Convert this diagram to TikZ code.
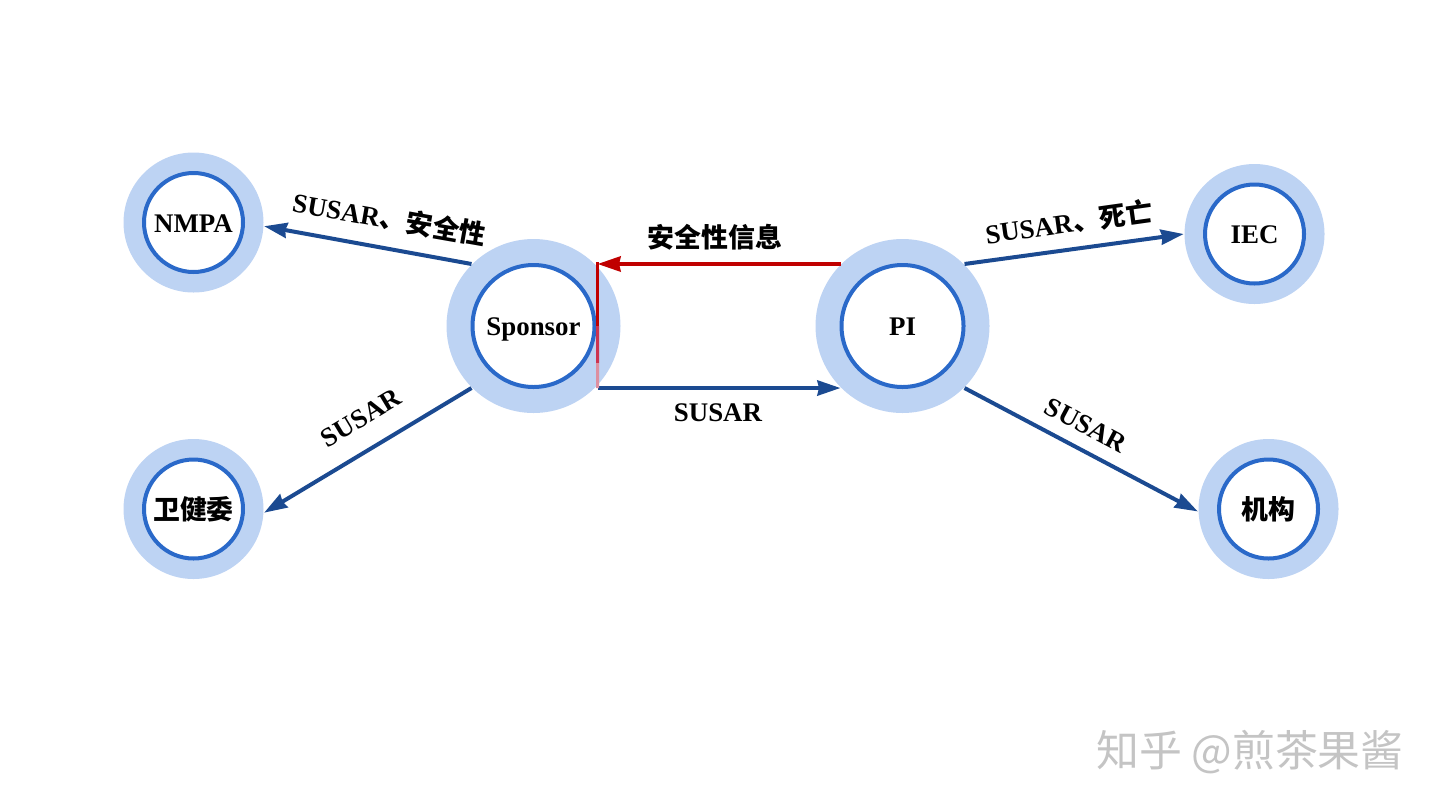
\documentclass[tikz,border=0pt]{standalone}
\usepackage{fontspec}
\setmainfont{Liberation Serif}
\newfontfamily\cjk{Noto Sans CJK SC}
\usetikzlibrary{arrows.meta, calc}
\definecolor{discblue}{HTML}{BDD3F3}
\definecolor{ringblue}{HTML}{2A69C9}
\definecolor{arrowblue}{HTML}{1B4A91}
\definecolor{arrowred}{HTML}{C00000}
\definecolor{midred}{HTML}{CC3350}
\definecolor{fadered}{HTML}{DD8FA0}
\definecolor{markgrey}{HTML}{C4C4C4}

\begin{document}
\begin{tikzpicture}
    [x=0.1mm, y=-0.1mm,
    bigdisc/.style={circle, fill=discblue, inner sep=0pt, minimum size=17.4mm},
    smalldisc/.style={circle, fill=discblue, inner sep=0pt, minimum size=14mm},
    bigring/.style={circle, draw=ringblue, line width=0.4mm, fill=white, inner sep=0pt, minimum size=12.2mm, text height=5.5pt, text depth=0pt, font=\fontsize{7.65}{9}\selectfont\bfseries},
    smallring/.style={circle, draw=ringblue, line width=0.4mm, fill=white, inner sep=0pt, minimum size=9.9mm, text height=5.5pt, text depth=0pt, font=\fontsize{7.65}{9}\selectfont\bfseries},
    bluearrow/.style={draw=arrowblue, line width=0.4mm, -{Stealth[length=2.3mm, width=1.5mm, inset=0.15mm]}},
    redarrow/.style={draw=arrowred, line width=0.4mm, -{Stealth[length=2.3mm, width=1.5mm, inset=0.15mm]}},
    edgelabel/.style={inner sep=0pt, font=\fontsize{7.65}{9}\selectfont\bfseries},]

    \useasboundingbox (0,0) rectangle (1440,810);

    %Nodes
    \node[bigdisc](Sponsor) at (533.5,326){};
    \node[bigdisc](PI) at (902.5,326){};
    \node[smalldisc](NMPA) at (193.5,222.5){};
    \node[smalldisc](NHC) at (193.5,509){};
    \node[smalldisc](IEC) at (1254.5,234){};
    \node[smalldisc](Site) at (1268.5,509){};

    \node[bigring](SponsorIn) at (Sponsor){Sponsor};
    \node[bigring](PIIn) at (PI){PI};
    \node[smallring](NMPAIn) at (NMPA){NMPA};
    \node[smallring, text height=6.2pt](NHCIn) at (NHC){\cjk 卫健委};
    \node[smallring](IECIn) at (IEC){IEC};
    \node[smallring, text height=6.2pt](SiteIn) at (Site){\cjk 机构};

    \coordinate (RedTop) at ([xshift=0.2mm]Sponsor.45);
    \coordinate (BlueStart) at ([xshift=0.2mm]Sponsor.-45);

    %Lines
    \draw[bluearrow](Sponsor.135)--(NMPA.-3);
    \draw[bluearrow](Sponsor.225)--(NHC.-3);
    \draw[bluearrow](PI.45)--(IEC.180);
    \draw[bluearrow](PI.-45)--(Site.182);
    \draw[bluearrow](BlueStart)--(PI.-135);
    \draw[redarrow](PI.135)--(RedTop);
    \draw[draw=arrowred, line width=0.3mm]($(RedTop)!0.5!(BlueStart)$)--([yshift=0.15mm]RedTop);
    \draw[draw=midred, line width=0.3mm]($(RedTop)!0.8!(BlueStart)$)--($(RedTop)!0.5!(BlueStart)$);
    \draw[draw=fadered, line width=0.3mm](BlueStart)--($(RedTop)!0.8!(BlueStart)$);

    %Labels
    \node[edgelabel, rotate=-10](LabelNMPA) at (389.5,218.5){SUSAR{\cjk 、安全性}};
    \node[edgelabel, rotate=31](LabelNHC) at (361,418){SUSAR};
    \node[edgelabel](LabelInfo) at (715,237){\cjk 安全性信息};
    \node[edgelabel](LabelPI) at (718,413){SUSAR};
    \node[edgelabel, rotate=8](LabelIEC) at (1069,222){SUSAR{\cjk 、死亡}};
    \node[edgelabel, rotate=-28](LabelSite) at (1086,425){SUSAR};

    %Watermark
    \node[inner sep=0pt, text=markgrey, font=\fontsize{12.2}{14}\selectfont](Mark) at (1250,752){\cjk 知乎 @煎茶果酱};
\end{tikzpicture}
\end{document}
